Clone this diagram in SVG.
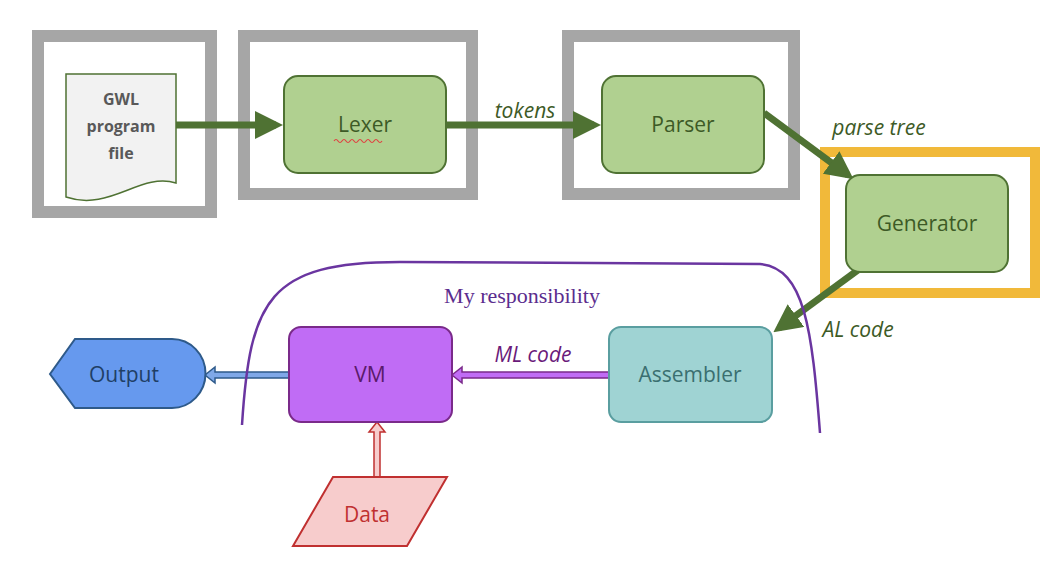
<svg xmlns="http://www.w3.org/2000/svg" width="1052" height="584" viewBox="0 0 1052 584">
<style>
.frame{fill:none;stroke:#a6a6a6;stroke-width:12}
.t{font-family:"Open Sans","Liberation Sans",sans-serif;text-anchor:middle}
.lbl{font-family:"Open Sans","Liberation Sans",sans-serif;font-style:italic;font-size:21px;fill:#3d5a26}
.green{fill:#b0d090;stroke:#4f7233;stroke-width:2}
</style>
<defs>
<marker id="ag" markerWidth="4" markerHeight="4" refX="3" refY="2" orient="auto"><path d="M0,0 L4,2 L0,4 z" fill="#4f7233"/></marker>
</defs>
<rect width="1052" height="584" fill="#fff"/>
<rect class="frame" x="38" y="36" width="173" height="176"/>
<rect class="frame" x="244" y="36" width="228" height="158"/>
<rect class="frame" x="568" y="36" width="226" height="158"/>
<rect x="825" y="152" width="210" height="141" fill="none" stroke="#f1b93a" stroke-width="10"/>
<g id="connectors">
<g stroke="#4f7233" stroke-width="7" fill="none" marker-end="url(#ag)">
<line x1="176" y1="125" x2="276" y2="125"/>
<line x1="446" y1="125" x2="594" y2="125"/>
<line x1="764" y1="113" x2="848" y2="175"/>
<line x1="858" y1="270" x2="779" y2="328"/>
</g>
<path d="M609,372 H462 V367 L452,375 L462,383 V378 H609 z" fill="#c06cf5" stroke="#7a2a8a" stroke-width="1.5"/>
<path d="M289,372 H215 V367 L205,375 L215,383 V378 H289 z" fill="#7fa8e8" stroke="#2e5a8a" stroke-width="1.5"/>
<path d="M374,477 V432 H369 L377,422 L385,432 H380 V477 z" fill="#f7cccc" stroke="#c03030" stroke-width="1.5"/>
</g>
<path d="M242,425 C250,300 268,262 400,262 L760,264 C805,268 812,330 820,433" fill="none" stroke="#6a35a0" stroke-width="2.5"/>
<text x="522" y="303" font-family="Liberation Serif,serif" font-size="22" fill="#5b2d8e" text-anchor="middle">My responsibility</text>
<g id="file"><path d="M66,74 H176 V183 C140,172 110,212 66,197 z" fill="#f2f2f2" stroke="#4f7233" stroke-width="1.5"/>
<text class="t" font-size="16" font-weight="bold" fill="#595959"><tspan x="121" y="105">GWL</tspan><tspan x="121" y="132">program</tspan><tspan x="121" y="159">file</tspan></text></g>
<g id="lexer"><rect class="green" x="284" y="76" width="162" height="97" rx="14"/><text class="t" x="365" y="132" font-size="21" fill="#3d5a26">Lexer</text>
<path d="M334,141 q2,-3 4,0 t4,0 t4,0 t4,0 t4,0 t4,0 t4,0 t4,0 t4,0 t4,0 t4,0 t4,0" fill="none" stroke="#e04040" stroke-width="1.2"/></g>
<g id="parser"><rect class="green" x="602" y="76" width="162" height="97" rx="14"/><text class="t" x="683" y="132" font-size="21" fill="#3d5a26">Parser</text></g>
<g id="generator"><rect class="green" x="846" y="175" width="162" height="97" rx="14"/><text class="t" x="927" y="231" font-size="21" fill="#3d5a26">Generator</text></g>
<g id="assembler"><rect x="609" y="327" width="163" height="95" rx="12" fill="#9fd3d3" stroke="#5a9ea0" stroke-width="2"/><text class="t" x="690" y="382" font-size="21" fill="#3a6f70">Assembler</text></g>
<g id="vm"><rect x="289" y="327" width="163" height="95" rx="12" fill="#c06cf5" stroke="#7a2a8a" stroke-width="2"/><text class="t" x="370" y="382" font-size="21" fill="#5a1a6a">VM</text></g>
<g id="output"><path d="M50,374 L75,339 H172 A33,34 0 0 1 172,408 H75 z" fill="#6699ee" stroke="#2e5a8a" stroke-width="2"/><text class="t" x="124" y="382" font-size="21" fill="#1f3f66">Output</text></g>
<g id="data"><path d="M333,477 H447 L407,546 H293 z" fill="#f7cccc" stroke="#c03030" stroke-width="2"/><text class="t" x="367" y="522" font-size="21" fill="#c03030">Data</text></g>
<text class="lbl" x="525" y="118" text-anchor="middle">tokens</text>
<text class="lbl" x="879" y="135" text-anchor="middle">parse tree</text>
<text class="lbl" x="858" y="337" text-anchor="middle">AL code</text>
<text class="lbl" x="533" y="362" text-anchor="middle" fill="#6a1a7a" style="fill:#6a1a7a">ML code</text>
</svg>
